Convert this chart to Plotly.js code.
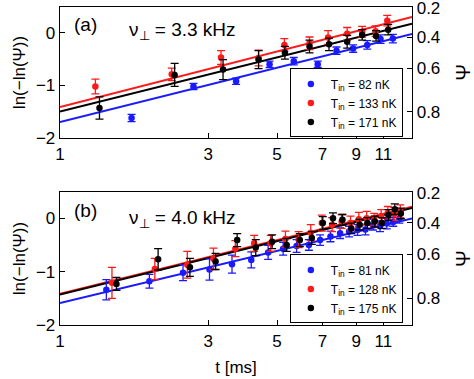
<!DOCTYPE html>
<html><head><meta charset="utf-8">
<script src="https://cdn.plot.ly/plotly-3.0.1.min.js"></script>
<style>html,body{margin:0;padding:0;background:#fff}#chart{width:474px;height:379px}</style>
</head><body><div id="chart"></div>
<script>
// ---------- Panel (a): nu_perp = 3.3 kHz ----------
const tA_blue  = [1.70, 2.69, 3.69, 4.73, 5.66, 6.76, 7.77, 8.79, 9.76, 10.77, 11.8];
const yA_blue  = [-1.62, -1.02, -0.92, -0.60, -0.54, -0.60, -0.34, -0.30, -0.23, -0.12, -0.11];
const eA_blue  = [0.07, 0.06, 0.06, 0.06, 0.07, 0.06, 0.07, 0.07, 0.08, 0.08, 0.08];
const tA_red   = [1.30, 2.29, 3.30, 4.36, 5.28, 6.36, 7.30, 8.41, 9.40, 10.38, 11.32];
const yA_red   = [-1.02, -0.79, -0.47, -0.48, -0.23, -0.20, -0.09, -0.02, 0.02, 0.03, 0.23];
const eA_red   = [0.14, 0.12, 0.13, 0.15, 0.12, 0.12, 0.13, 0.12, 0.10, 0.10, 0.10];
const tA_black = [1.34, 2.34, 3.35, 4.36, 5.30, 6.36, 7.35, 8.41, 9.40, 10.42, 11.4];
const yA_black = [-1.43, -0.80, -0.70, -0.51, -0.38, -0.26, -0.22, -0.17, -0.04, -0.06, 0.06];
const eA_black = [0.21, 0.22, 0.19, 0.17, 0.12, 0.12, 0.12, 0.12, 0.10, 0.10, 0.10];
// fit lines: y = intercept + slope*log10(t)   [blue, red, black]
const fitA_intercept = [-1.695, -1.41, -1.495];
const fitA_slope     = [1.474, 1.508, 1.472];
const legendA = ['T<sub>in</sub> = 82 nK', 'T<sub>in</sub> = 133 nK', 'T<sub>in</sub> = 171 nK'];

// ---------- Panel (b): nu_perp = 4.0 kHz ----------
const tB_blue  = [1.41, 1.94, 2.49, 3.03, 3.58, 4.13, 4.68, 5.23, 5.78, 6.33, 6.88, 7.43, 7.98, 8.53, 9.08, 9.63, 10.18, 10.73, 11.28, 11.83, 12.38];
const yB_blue  = [-1.34, -1.18, -1.02, -0.96, -0.86, -0.78, -0.64, -0.57, -0.52, -0.50, -0.41, -0.34, -0.28, -0.25, -0.22, -0.21, -0.12, -0.15, -0.10, -0.07, -0.01];
const eB_blue  = [0.19, 0.13, 0.15, 0.2, 0.17, 0.15, 0.13, 0.12, 0.12, 0.1, 0.1, 0.1, 0.1, 0.1, 0.1, 0.1, 0.1, 0.1, 0.1, 0.08, 0.08];
const tB_red   = [1.47, 2.02, 2.57, 3.12, 3.67, 4.22, 4.77, 5.32, 5.87, 6.42, 6.97, 7.52, 8.07, 8.62, 9.17, 9.72, 10.27, 10.82, 11.37, 11.92, 12.47];
const yB_red   = [-1.21, -0.95, -0.87, -0.76, -0.57, -0.47, -0.47, -0.39, -0.40, -0.27, -0.09, -0.12, -0.06, -0.09, -0.02, 0.00, -0.03, 0.04, 0.10, 0.08, 0.13];
const eB_red   = [0.29, 0.2, 0.25, 0.2, 0.15, 0.15, 0.15, 0.15, 0.15, 0.15, 0.15, 0.13, 0.13, 0.13, 0.13, 0.13, 0.12, 0.12, 0.12, 0.12, 0.12];
const tB_black = [1.52, 2.07, 2.62, 3.17, 3.72, 4.27, 4.82, 5.37, 5.92, 6.47, 7.02, 7.57, 8.12, 8.67, 9.22, 9.77, 10.32, 10.87, 11.42, 11.97, 12.52];
const yB_black = [-1.23, -0.77, -0.92, -0.81, -0.41, -0.55, -0.44, -0.50, -0.41, -0.37, -0.09, 0.00, -0.03, -0.19, -0.12, -0.09, -0.06, -0.09, 0.06, 0.17, 0.09];
const eB_black = [0.12, 0.2, 0.17, 0.15, 0.12, 0.15, 0.13, 0.12, 0.12, 0.12, 0.12, 0.1, 0.1, 0.1, 0.1, 0.1, 0.1, 0.1, 0.1, 0.1, 0.1];
const fitB_intercept = [-1.59, -1.415, -1.43];
const fitB_slope     = [1.40, 1.44, 1.43];
const legendB = ['T<sub>in</sub> = 81 nK', 'T<sub>in</sub> = 128 nK', 'T<sub>in</sub> = 175 nK'];

const xTicks = [1, 3, 5, 7, 9, 11];
const psiTicks = [0.2, 0.4, 0.6, 0.8];
const colors = ['#1a1aff', '#ff1a1a', '#000000'];
const xRangeT = [1, 13.6];

const traces = [];
function addPanel(ts, ys, es, icpt, slope, names, xa, ya, leg) {
  for (let i = 0; i < 3; i++) {
    traces.push({
      x: xRangeT, y: xRangeT.map(t => icpt[i] + slope[i] * Math.log10(t)),
      xaxis: xa, yaxis: ya, mode: 'lines', showlegend: false, hoverinfo: 'skip',
      line: {color: colors[i], width: 2}
    });
  }
  for (let i = 0; i < 3; i++) {
    traces.push({
      x: ts[i], y: ys[i], xaxis: xa, yaxis: ya, mode: 'markers', name: names[i], legend: leg,
      marker: {color: colors[i], size: 6.5},
      error_y: {type: 'data', array: es[i], visible: true, color: colors[i], thickness: 1.3, width: 4}
    });
  }
}
addPanel([tA_blue, tA_red, tA_black], [yA_blue, yA_red, yA_black], [eA_blue, eA_red, eA_black],
         fitA_intercept, fitA_slope, legendA, 'x', 'y', 'legend');
addPanel([tB_blue, tB_red, tB_black], [yB_blue, yB_red, yB_black], [eB_blue, eB_red, eB_black],
         fitB_intercept, fitB_slope, legendB, 'x2', 'y2', 'legend2');
// invisible traces to activate the right-hand Psi axes
traces.push({x: [1], y: [0], xaxis: 'x', yaxis: 'y3', mode: 'markers', marker: {opacity: 0}, showlegend: false, hoverinfo: 'skip'});
traces.push({x: [1], y: [0], xaxis: 'x2', yaxis: 'y4', mode: 'markers', marker: {opacity: 0}, showlegend: false, hoverinfo: 'skip'});

const F = 'Liberation Sans, Arial, sans-serif';
const yRange = [-2, 0.49];
const psiVals = psiTicks.map(p => Math.log(-Math.log(p)));
const xAx = (anchor) => ({
  type: 'log', range: [0, Math.log10(xRangeT[1])], tickvals: xTicks, ticktext: xTicks.map(String),
  ticks: 'inside', ticklen: 5, tickcolor: '#000', showline: true, linecolor: '#000', linewidth: 1.3,
  mirror: true, showgrid: false, zeroline: false, anchor: anchor,
  tickfont: {family: F, size: 17, color: '#000'}
});
const yAx = (dom, anchor) => ({
  domain: dom, range: yRange, tickvals: [-2, -1, 0], ticks: 'inside', ticklen: 5, tickcolor: '#000',
  showline: true, linecolor: '#000', linewidth: 1.3, showgrid: false, zeroline: false, anchor: anchor,
  tickfont: {family: F, size: 17, color: '#000'}, ticklabeloverflow: 'allow',
  title: {text: 'ln(−ln(Ψ))', font: {family: F, size: 17, color: '#000'}, standoff: 6}
});
const yPsi = (overlay, anchor) => ({
  overlaying: overlay, side: 'right', anchor: anchor, range: yRange, tickvals: psiVals,
  ticktext: psiTicks.map(p => p.toFixed(1)), ticks: 'inside', ticklen: 5, tickcolor: '#000',
  showline: true, linecolor: '#000', linewidth: 1.3, showgrid: false, zeroline: false,
  tickfont: {family: F, size: 17, color: '#000'}, ticklabeloverflow: 'allow',
  title: {text: 'Ψ', font: {family: F, size: 20, color: '#000'}, standoff: 16}
});
const legBox = (y) => ({
  x: 0.974, y: y, xanchor: 'right', yanchor: 'bottom', bgcolor: '#fff', bordercolor: '#000', borderwidth: 1,
  font: {family: F, size: 12, color: '#000'}, itemwidth: 30, tracegroupgap: 0
});

const layout = {
  width: 474, height: 379, margin: {l: 60, r: 62, t: 7, b: 54},
  paper_bgcolor: '#fff', plot_bgcolor: '#fff', showlegend: true,
  xaxis: xAx('y'),
  xaxis2: Object.assign(xAx('y2'), {title: {text: 't [ms]', font: {family: F, size: 17, color: '#000'}, standoff: 11}}),
  yaxis: yAx([0.588, 1.0], 'x'),
  yaxis2: yAx([0, 0.418], 'x2'),
  yaxis3: yPsi('y', 'x'),
  yaxis4: Object.assign(yPsi('y2', 'x2'), {domain: [0, 0.418]}),
  legend: legBox(0.59),
  legend2: legBox(0.005),
  annotations: [
    {xref: 'x domain', yref: 'y domain', x: 0.034, y: 0.87, xanchor: 'left', yanchor: 'middle', showarrow: false, text: '(a)', font: {family: F, size: 19, color: '#000'}},
    {xref: 'x domain', yref: 'y domain', x: 0.19, y: 0.82, xanchor: 'left', yanchor: 'middle', showarrow: false, text: 'ν<sub>⊥</sub> = 3.3 kHz', font: {family: F, size: 19, color: '#000'}},
    {xref: 'x2 domain', yref: 'y2 domain', x: 0.034, y: 0.865, xanchor: 'left', yanchor: 'middle', showarrow: false, text: '(b)', font: {family: F, size: 19, color: '#000'}},
    {xref: 'x2 domain', yref: 'y2 domain', x: 0.19, y: 0.80, xanchor: 'left', yanchor: 'middle', showarrow: false, text: 'ν<sub>⊥</sub> = 4.0 kHz', font: {family: F, size: 19, color: '#000'}}
  ]
};
Plotly.newPlot('chart', traces, layout, {displayModeBar: false, staticPlot: true});
</script></body></html>
